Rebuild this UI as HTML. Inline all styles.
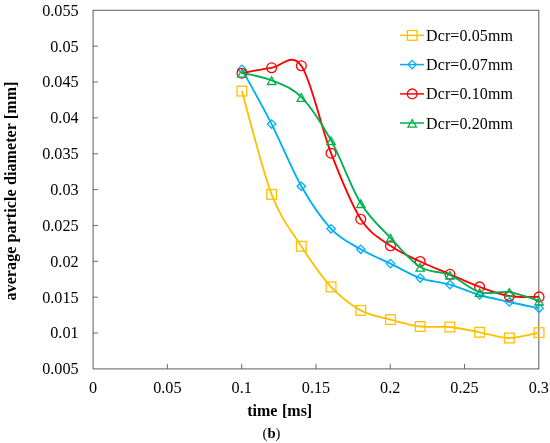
<!DOCTYPE html>
<html><head><meta charset="utf-8"><title>chart</title>
<style>html,body{margin:0;padding:0;background:#fff}svg{display:block}text{font-family:"Liberation Serif","Times New Roman",serif;fill:#000}</style></head><body>
<svg width="550" height="443" viewBox="0 0 550 443">
<rect width="550" height="443" fill="#fff"/>
<rect x="93.1" y="10.3" width="445.69999999999993" height="358.59999999999997" fill="none" stroke="#646464" stroke-width="1.05"/>
<path d="M93.1,46.16 h5 M93.1,82.02 h5 M93.1,117.88 h5 M93.1,153.74 h5 M93.1,189.60 h5 M93.1,225.46 h5 M93.1,261.32 h5 M93.1,297.18 h5 M93.1,333.04 h5 M167.38,368.9 v-5 M241.67,368.9 v-5 M315.95,368.9 v-5 M390.23,368.9 v-5 M464.52,368.9 v-5" stroke="#5c5c5c" stroke-width="0.9" fill="none"/>
<text x="78.6" y="15.65" font-size="16.2" text-anchor="end">0.055</text>
<text x="78.6" y="51.51" font-size="16.2" text-anchor="end">0.05</text>
<text x="78.6" y="87.37" font-size="16.2" text-anchor="end">0.045</text>
<text x="78.6" y="123.23" font-size="16.2" text-anchor="end">0.04</text>
<text x="78.6" y="159.09" font-size="16.2" text-anchor="end">0.035</text>
<text x="78.6" y="194.95" font-size="16.2" text-anchor="end">0.03</text>
<text x="78.6" y="230.81" font-size="16.2" text-anchor="end">0.025</text>
<text x="78.6" y="266.67" font-size="16.2" text-anchor="end">0.02</text>
<text x="78.6" y="302.53" font-size="16.2" text-anchor="end">0.015</text>
<text x="78.6" y="338.39" font-size="16.2" text-anchor="end">0.01</text>
<text x="78.6" y="374.25" font-size="16.2" text-anchor="end">0.005</text>
<text x="93.10" y="393.2" font-size="16.2" text-anchor="middle">0</text>
<text x="167.38" y="393.2" font-size="16.2" text-anchor="middle">0.05</text>
<text x="241.67" y="393.2" font-size="16.2" text-anchor="middle">0.1</text>
<text x="315.95" y="393.2" font-size="16.2" text-anchor="middle">0.15</text>
<text x="390.23" y="393.2" font-size="16.2" text-anchor="middle">0.2</text>
<text x="464.52" y="393.2" font-size="16.2" text-anchor="middle">0.25</text>
<text x="538.80" y="393.2" font-size="16.2" text-anchor="middle">0.3</text>
<text x="279.7" y="416.1" font-size="16" font-weight="bold" text-anchor="middle" word-spacing="0.6">time [ms]</text>
<text transform="translate(16.3,191.0) rotate(-90)" font-size="16" font-weight="bold" text-anchor="middle" letter-spacing="0.1">average particle diameter [mm]</text>
<text x="271.5" y="437.8" font-size="14.67" text-anchor="middle">(<tspan font-weight="bold">b</tspan>)</text>
<path d="M241.92,91.10 C246.87,108.32 261.73,168.53 271.63,194.40 C281.53,220.27 291.44,230.88 301.34,246.30 C311.25,261.72 321.15,276.22 331.06,286.90 C340.96,297.58 350.87,304.95 360.77,310.40 C370.67,315.85 380.58,316.92 390.48,319.60 C400.39,322.28 410.29,325.27 420.20,326.50 C430.10,327.73 440.01,326.03 449.91,327.00 C459.81,327.97 469.72,330.47 479.62,332.30 C489.53,334.13 499.43,337.95 509.34,338.00 C519.24,338.05 534.10,333.50 539.05,332.60" fill="none" stroke="#FFC000" stroke-width="1.85" stroke-linecap="butt" stroke-linejoin="round"/>
<rect x="237.07" y="86.25" width="9.70" height="9.70" fill="none" stroke="#FFC000" stroke-width="1.3"/>
<rect x="266.78" y="189.55" width="9.70" height="9.70" fill="none" stroke="#FFC000" stroke-width="1.3"/>
<rect x="296.49" y="241.45" width="9.70" height="9.70" fill="none" stroke="#FFC000" stroke-width="1.3"/>
<rect x="326.21" y="282.05" width="9.70" height="9.70" fill="none" stroke="#FFC000" stroke-width="1.3"/>
<rect x="355.92" y="305.55" width="9.70" height="9.70" fill="none" stroke="#FFC000" stroke-width="1.3"/>
<rect x="385.63" y="314.75" width="9.70" height="9.70" fill="none" stroke="#FFC000" stroke-width="1.3"/>
<rect x="415.35" y="321.65" width="9.70" height="9.70" fill="none" stroke="#FFC000" stroke-width="1.3"/>
<rect x="445.06" y="322.15" width="9.70" height="9.70" fill="none" stroke="#FFC000" stroke-width="1.3"/>
<rect x="474.77" y="327.45" width="9.70" height="9.70" fill="none" stroke="#FFC000" stroke-width="1.3"/>
<rect x="504.49" y="333.15" width="9.70" height="9.70" fill="none" stroke="#FFC000" stroke-width="1.3"/>
<rect x="534.20" y="327.75" width="9.70" height="9.70" fill="none" stroke="#FFC000" stroke-width="1.3"/>
<path d="M241.92,69.30 C246.87,78.43 261.73,104.60 271.63,124.10 C281.53,143.60 291.44,168.85 301.34,186.30 C311.25,203.75 321.15,218.30 331.06,228.80 C340.96,239.30 350.87,243.50 360.77,249.30 C370.67,255.10 380.58,258.80 390.48,263.60 C400.39,268.40 410.29,274.60 420.20,278.10 C430.10,281.60 440.01,281.78 449.91,284.60 C459.81,287.42 469.72,292.10 479.62,295.00 C489.53,297.90 499.43,299.78 509.34,302.00 C519.24,304.22 534.10,307.25 539.05,308.30" fill="none" stroke="#00B0F0" stroke-width="1.85" stroke-linecap="butt" stroke-linejoin="round"/>
<path d="M241.92,65.10 L246.12,69.30 L241.92,73.50 L237.72,69.30 Z" fill="none" stroke="#00B0F0" stroke-width="1.3"/>
<path d="M271.63,119.90 L275.83,124.10 L271.63,128.30 L267.43,124.10 Z" fill="none" stroke="#00B0F0" stroke-width="1.3"/>
<path d="M301.34,182.10 L305.54,186.30 L301.34,190.50 L297.14,186.30 Z" fill="none" stroke="#00B0F0" stroke-width="1.3"/>
<path d="M331.06,224.60 L335.26,228.80 L331.06,233.00 L326.86,228.80 Z" fill="none" stroke="#00B0F0" stroke-width="1.3"/>
<path d="M360.77,245.10 L364.97,249.30 L360.77,253.50 L356.57,249.30 Z" fill="none" stroke="#00B0F0" stroke-width="1.3"/>
<path d="M390.48,259.40 L394.68,263.60 L390.48,267.80 L386.28,263.60 Z" fill="none" stroke="#00B0F0" stroke-width="1.3"/>
<path d="M420.20,273.90 L424.40,278.10 L420.20,282.30 L416.00,278.10 Z" fill="none" stroke="#00B0F0" stroke-width="1.3"/>
<path d="M449.91,280.40 L454.11,284.60 L449.91,288.80 L445.71,284.60 Z" fill="none" stroke="#00B0F0" stroke-width="1.3"/>
<path d="M479.62,290.80 L483.82,295.00 L479.62,299.20 L475.42,295.00 Z" fill="none" stroke="#00B0F0" stroke-width="1.3"/>
<path d="M509.34,297.80 L513.54,302.00 L509.34,306.20 L505.14,302.00 Z" fill="none" stroke="#00B0F0" stroke-width="1.3"/>
<path d="M539.05,304.10 L543.25,308.30 L539.05,312.50 L534.85,308.30 Z" fill="none" stroke="#00B0F0" stroke-width="1.3"/>
<path d="M241.92,73.20 C246.87,72.30 261.73,69.03 271.63,67.80 C281.53,66.57 291.44,51.57 301.34,65.80 C311.25,80.03 321.15,127.63 331.06,153.20 C340.96,178.77 350.87,203.77 360.77,219.20 C370.67,234.63 380.58,238.75 390.48,245.80 C400.39,252.85 410.29,256.75 420.20,261.50 C430.10,266.25 440.01,270.07 449.91,274.30 C459.81,278.53 469.72,283.28 479.62,286.90 C489.53,290.52 499.43,294.33 509.34,296.00 C519.24,297.67 534.10,296.75 539.05,296.90" fill="none" stroke="#FF0000" stroke-width="1.85" stroke-linecap="butt" stroke-linejoin="round"/>
<circle cx="241.92" cy="73.20" r="4.90" fill="none" stroke="#FF0000" stroke-width="1.3"/>
<circle cx="271.63" cy="67.80" r="4.90" fill="none" stroke="#FF0000" stroke-width="1.3"/>
<circle cx="301.34" cy="65.80" r="4.90" fill="none" stroke="#FF0000" stroke-width="1.3"/>
<circle cx="331.06" cy="153.20" r="4.90" fill="none" stroke="#FF0000" stroke-width="1.3"/>
<circle cx="360.77" cy="219.20" r="4.90" fill="none" stroke="#FF0000" stroke-width="1.3"/>
<circle cx="390.48" cy="245.80" r="4.90" fill="none" stroke="#FF0000" stroke-width="1.3"/>
<circle cx="420.20" cy="261.50" r="4.90" fill="none" stroke="#FF0000" stroke-width="1.3"/>
<circle cx="449.91" cy="274.30" r="4.90" fill="none" stroke="#FF0000" stroke-width="1.3"/>
<circle cx="479.62" cy="286.90" r="4.90" fill="none" stroke="#FF0000" stroke-width="1.3"/>
<circle cx="509.34" cy="296.00" r="4.90" fill="none" stroke="#FF0000" stroke-width="1.3"/>
<circle cx="539.05" cy="296.90" r="4.90" fill="none" stroke="#FF0000" stroke-width="1.3"/>
<path d="M241.92,73.00 C246.87,74.22 261.73,76.28 271.63,80.30 C281.53,84.32 291.44,87.08 301.34,97.10 C311.25,107.12 321.15,122.70 331.06,140.40 C340.96,158.10 350.87,187.07 360.77,203.30 C370.67,219.53 380.58,227.18 390.48,237.80 C400.39,248.42 410.29,260.80 420.20,267.00 C430.10,273.20 440.01,270.80 449.91,275.00 C459.81,279.20 469.72,289.35 479.62,292.20 C489.53,295.05 499.43,290.67 509.34,292.10 C519.24,293.53 534.10,299.35 539.05,300.80" fill="none" stroke="#00B050" stroke-width="1.85" stroke-linecap="butt" stroke-linejoin="round"/>
<path d="M241.92,69.55 L246.12,77.20 L237.72,77.20 Z" fill="none" stroke="#00B050" stroke-width="1.3" stroke-linejoin="miter"/>
<path d="M271.63,76.85 L275.83,84.50 L267.43,84.50 Z" fill="none" stroke="#00B050" stroke-width="1.3" stroke-linejoin="miter"/>
<path d="M301.34,93.65 L305.54,101.30 L297.14,101.30 Z" fill="none" stroke="#00B050" stroke-width="1.3" stroke-linejoin="miter"/>
<path d="M331.06,136.95 L335.26,144.60 L326.86,144.60 Z" fill="none" stroke="#00B050" stroke-width="1.3" stroke-linejoin="miter"/>
<path d="M360.77,199.85 L364.97,207.50 L356.57,207.50 Z" fill="none" stroke="#00B050" stroke-width="1.3" stroke-linejoin="miter"/>
<path d="M390.48,234.35 L394.68,242.00 L386.28,242.00 Z" fill="none" stroke="#00B050" stroke-width="1.3" stroke-linejoin="miter"/>
<path d="M420.20,263.55 L424.40,271.20 L416.00,271.20 Z" fill="none" stroke="#00B050" stroke-width="1.3" stroke-linejoin="miter"/>
<path d="M449.91,271.55 L454.11,279.20 L445.71,279.20 Z" fill="none" stroke="#00B050" stroke-width="1.3" stroke-linejoin="miter"/>
<path d="M479.62,288.75 L483.82,296.40 L475.42,296.40 Z" fill="none" stroke="#00B050" stroke-width="1.3" stroke-linejoin="miter"/>
<path d="M509.34,288.65 L513.54,296.30 L505.14,296.30 Z" fill="none" stroke="#00B050" stroke-width="1.3" stroke-linejoin="miter"/>
<path d="M539.05,297.35 L543.25,305.00 L534.85,305.00 Z" fill="none" stroke="#00B050" stroke-width="1.3" stroke-linejoin="miter"/>
<path d="M400,35.4 H424" stroke="#FFC000" stroke-width="1.5" fill="none"/>
<rect x="407.35" y="30.55" width="9.70" height="9.70" fill="none" stroke="#FFC000" stroke-width="1.3"/>
<text x="426" y="41.20" font-size="16" letter-spacing="0.12">Dcr=0.05mm</text>
<path d="M400,64.6 H424" stroke="#00B0F0" stroke-width="1.5" fill="none"/>
<path d="M412.20,60.40 L416.40,64.60 L412.20,68.80 L408.00,64.60 Z" fill="none" stroke="#00B0F0" stroke-width="1.3"/>
<text x="426" y="70.30" font-size="16" letter-spacing="0.12">Dcr=0.07mm</text>
<path d="M400,93.9 H424" stroke="#FF0000" stroke-width="1.5" fill="none"/>
<circle cx="412.20" cy="93.90" r="4.90" fill="none" stroke="#FF0000" stroke-width="1.3"/>
<text x="426" y="99.40" font-size="16" letter-spacing="0.12">Dcr=0.10mm</text>
<path d="M400,123.0 H424" stroke="#00B050" stroke-width="1.5" fill="none"/>
<path d="M412.20,119.55 L416.40,127.20 L408.00,127.20 Z" fill="none" stroke="#00B050" stroke-width="1.3" stroke-linejoin="miter"/>
<text x="426" y="128.50" font-size="16" letter-spacing="0.12">Dcr=0.20mm</text>
</svg></body></html>
